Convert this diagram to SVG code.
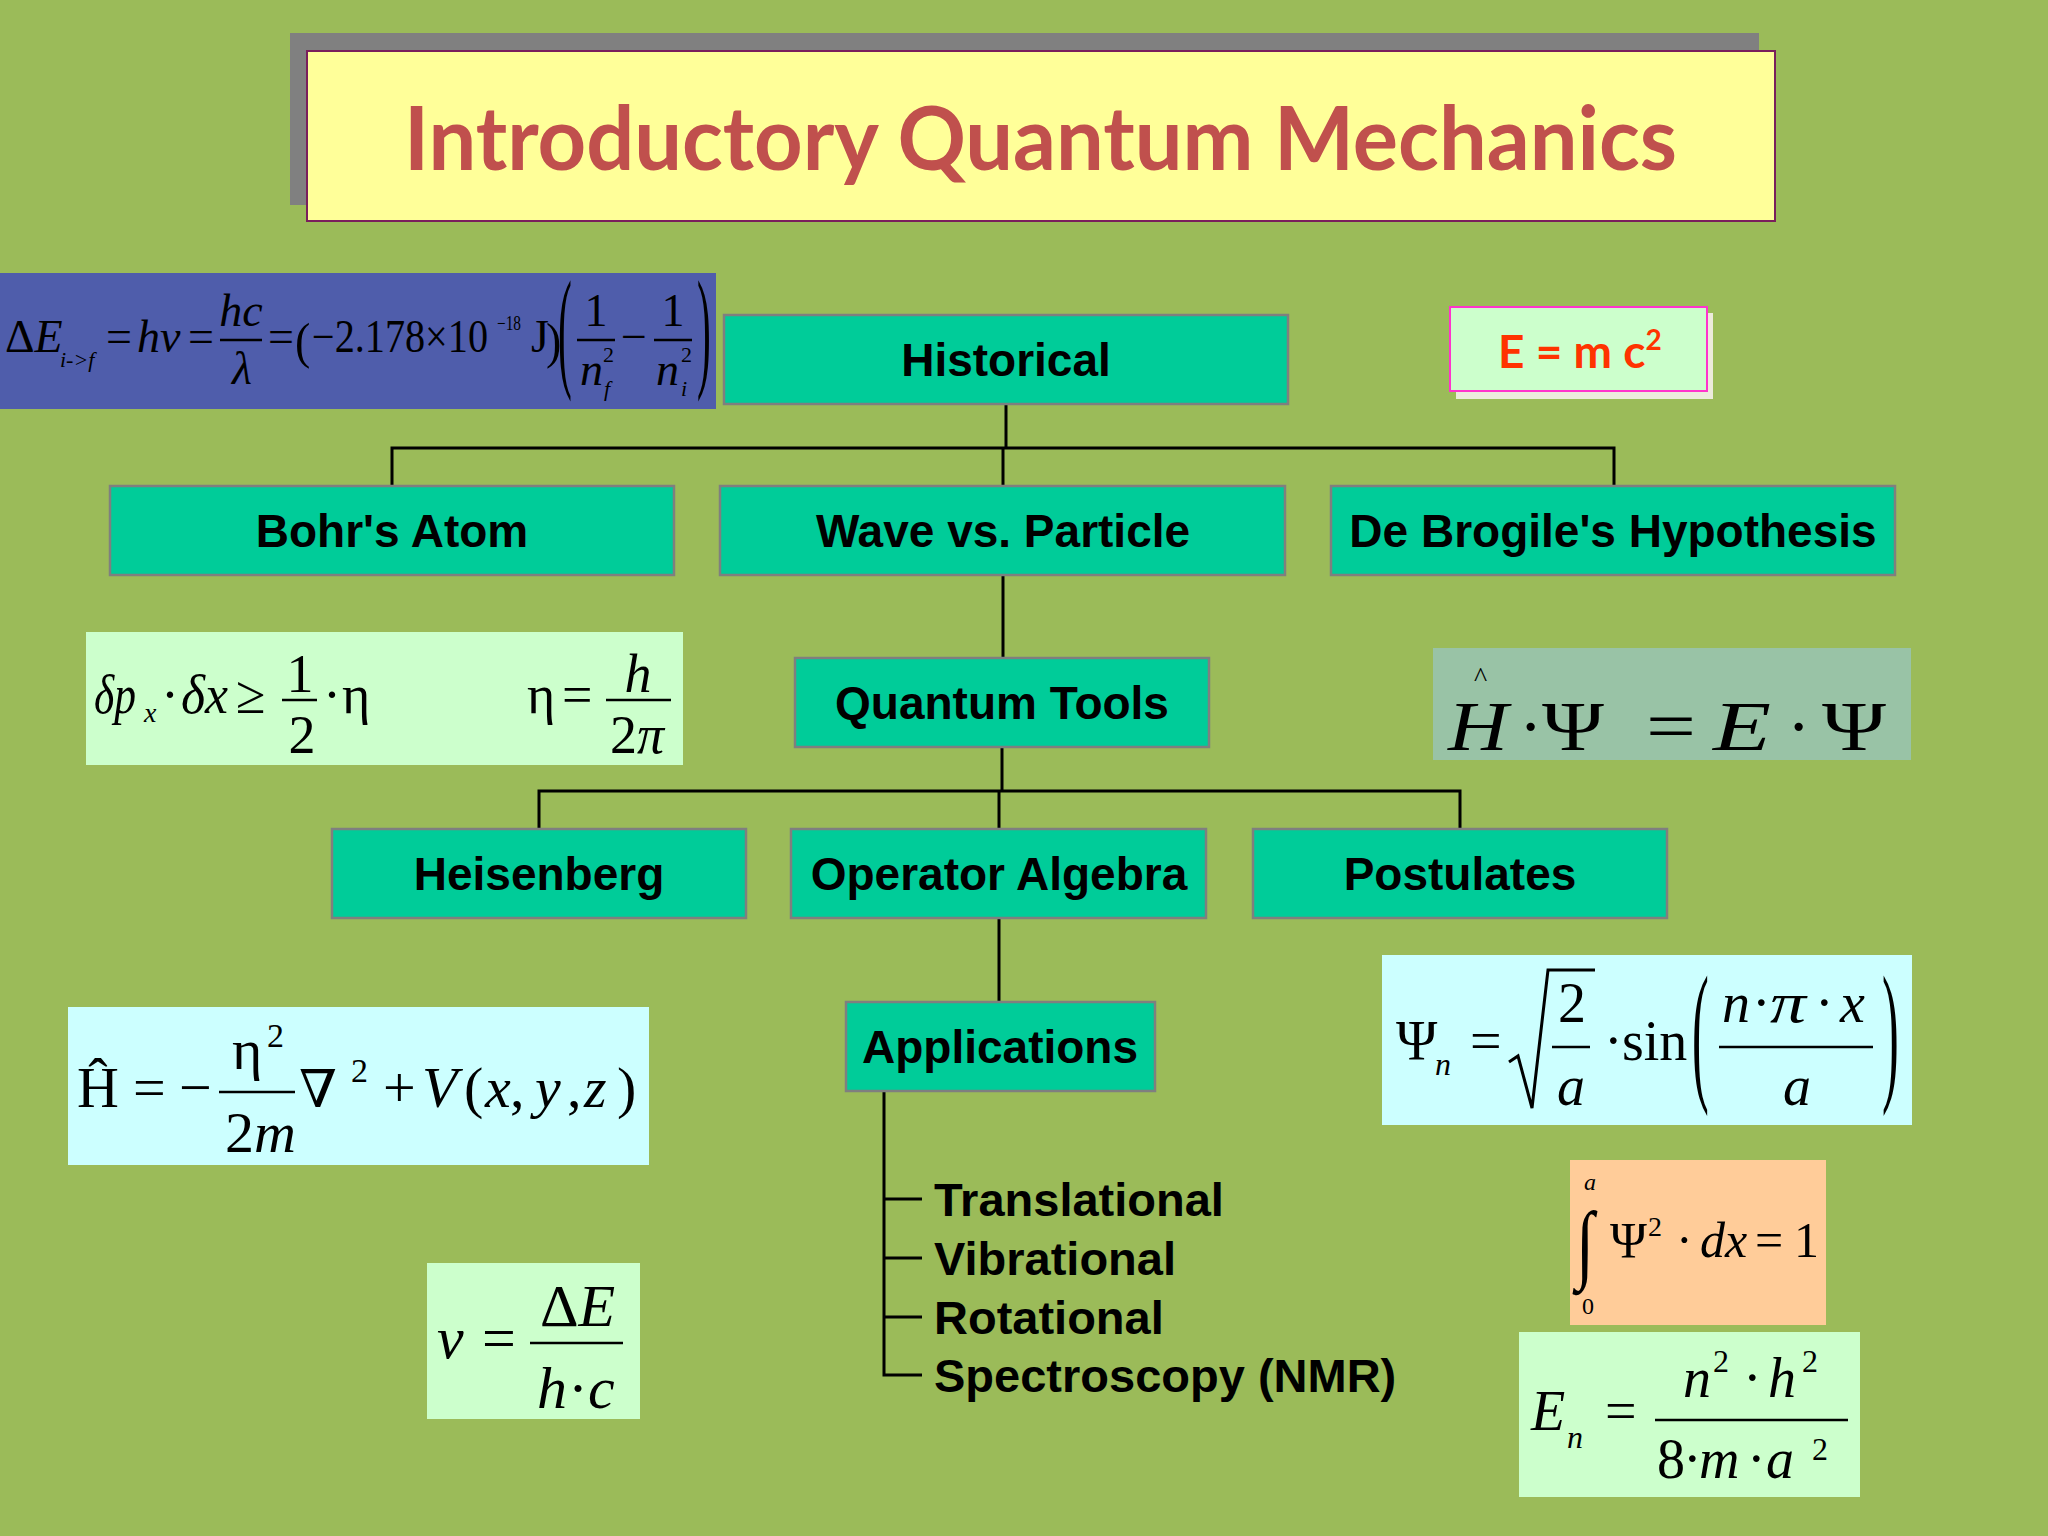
<svg xmlns="http://www.w3.org/2000/svg" width="2048" height="1536" viewBox="0 0 2048 1536">
<style>
.node rect{fill:#00cc99;stroke:#7f7f7f;stroke-width:2.5}
.node text{font-family:"Liberation Sans",Arial,sans-serif;font-weight:bold;font-size:46px;fill:#000;text-anchor:middle}
.conn path{fill:none;stroke:#000;stroke-width:3}
.m{font-family:"Liberation Serif","Times New Roman",serif;fill:#000}
.i{font-style:italic}
.c{text-anchor:middle}
.fl{stroke:#000;stroke-width:2.5}
.list{font-family:"Liberation Sans",Arial,sans-serif;font-weight:bold;font-size:47px;fill:#000}
</style>
<rect x="0" y="0" width="2048" height="1536" fill="#9bbb59"/>

<g id="title">
<rect x="290" y="33" width="1469" height="172" fill="#808080"/>
<rect x="307" y="51" width="1468" height="170" fill="#ffff99" stroke="#7a1f5c" stroke-width="2"/>
<text x="404" y="170" font-family="Lato,'Open Sans',sans-serif" font-weight="bold" font-size="88" fill="#c0504d" textLength="1273" lengthAdjust="spacingAndGlyphs">Introductory Quantum Mechanics</text>
</g>

<g id="emc2">
<rect x="1456" y="313" width="257" height="86" fill="#ecebdc"/>
<rect x="1450" y="307" width="257" height="84" fill="#ccffcc" stroke="#ff33cc" stroke-width="2"/>
<text x="1498" y="368" font-family="Lato,'Open Sans',sans-serif" font-weight="bold" font-size="46" fill="#ff3300">E = m c<tspan font-size="28" dy="-18">2</tspan></text>
</g>

<g id="conn" class="conn">
<path d="M1006 404V448"/>
<path d="M392 486V448H1614V486"/>
<path d="M1003 448V486"/>
<path d="M1003 575V658"/>
<path d="M1002 747V791"/>
<path d="M539 829V791H1460V829"/>
<path d="M999 791V829"/>
<path d="M999 918V1002"/>
<path d="M884 1091V1375H922"/>
<path d="M884 1199H922"/>
<path d="M884 1258H922"/>
<path d="M884 1317H922"/>
</g>

<g id="historical" class="node"><rect x="724" y="315" width="564" height="89"/><text x="1006" y="376">Historical</text></g>
<g id="bohr" class="node"><rect x="110" y="486" width="564" height="89"/><text x="392" y="547">Bohr's Atom</text></g>
<g id="wave" class="node"><rect x="720" y="486" width="565" height="89"/><text x="1003" y="547">Wave vs. Particle</text></g>
<g id="debroglie" class="node"><rect x="1331" y="486" width="564" height="89"/><text x="1613" y="547">De Brogile's Hypothesis</text></g>
<g id="tools" class="node"><rect x="795" y="658" width="414" height="89"/><text x="1002" y="719">Quantum Tools</text></g>
<g id="heisenberg" class="node"><rect x="332" y="829" width="414" height="89"/><text x="539" y="890">Heisenberg</text></g>
<g id="operator" class="node"><rect x="791" y="829" width="415" height="89"/><text x="999" y="890">Operator Algebra</text></g>
<g id="postulates" class="node"><rect x="1253" y="829" width="414" height="89"/><text x="1460" y="890">Postulates</text></g>
<g id="applications" class="node"><rect x="846" y="1002" width="309" height="89"/><text x="1000" y="1063">Applications</text></g>

<g id="applist" class="list">
<text x="934" y="1216">Translational</text>
<text x="934" y="1275">Vibrational</text>
<text x="934" y="1334">Rotational</text>
<text x="934" y="1392">Spectroscopy (NMR)</text>
</g>

<g id="eq-rydberg">
<rect x="0" y="273" width="716" height="136" fill="#4f5dab"/>
<g class="m" font-size="46">
<text x="5" y="352">Δ<tspan class="i">E</tspan></text>
<text x="60" y="367" font-size="22" class="i">i-&gt;f</text>
<text x="106" y="352">=</text>
<text x="137" y="352" class="i">h</text>
<text x="160" y="352" class="i">ν</text>
<text x="188" y="352">=</text>
<text x="241" y="326" class="i c">hc</text>
<line x1="220" y1="340" x2="262" y2="340" class="fl"/>
<text x="242" y="384" class="i c">λ</text>
<text x="268" y="352">=</text>
<text transform="translate(295,358) scale(1,1.1)">(</text>
<text x="312" y="352" textLength="176" lengthAdjust="spacingAndGlyphs">−2.178×10</text>
<text x="497" y="330" font-size="20" textLength="24" lengthAdjust="spacingAndGlyphs">−18</text>
<text x="531" y="352">J</text>
<text transform="translate(546,358) scale(1,1.1)">)</text>
<text transform="translate(558,373) scale(0.9,2.9)">(</text>
<text x="596" y="326" class="c">1</text>
<line x1="577" y1="340" x2="615" y2="340" class="fl"/>
<text x="580" y="385" class="i">n</text>
<text x="603" y="362" font-size="22">2</text>
<text x="604" y="396" font-size="22" class="i">f</text>
<text x="621" y="352">−</text>
<text x="673" y="326" class="c">1</text>
<line x1="654" y1="340" x2="692" y2="340" class="fl"/>
<text x="656" y="385" class="i">n</text>
<text x="681" y="362" font-size="22">2</text>
<text x="681" y="396" font-size="22" class="i">i</text>
<text transform="translate(697,373) scale(0.9,2.9)">)</text>
</g>
</g>

<g id="eq-uncertainty">
<rect x="86" y="632" width="597" height="133" fill="#ccffcc"/>
<g class="m" font-size="54">
<text x="94" y="713" class="i" textLength="42" lengthAdjust="spacingAndGlyphs">δp</text>
<text x="144" y="722" font-size="28" class="i">x</text>
<text x="161" y="713">·</text>
<text x="181" y="713" class="i" textLength="47" lengthAdjust="spacingAndGlyphs">δx</text>
<text x="236" y="713">≥</text>
<text x="300" y="692" class="c">1</text>
<line x1="282" y1="700" x2="317" y2="700" class="fl"/>
<text x="302" y="753" class="c">2</text>
<text x="323" y="713">·</text>
<text x="342" y="713">η</text>
<text x="527" y="713">η</text>
<text x="562" y="713">=</text>
<text x="638" y="692" class="i c">h</text>
<line x1="606" y1="700" x2="671" y2="700" class="fl"/>
<text x="610" y="753">2<tspan class="i">π</tspan></text>
</g>
</g>

<g id="eq-schrodinger">
<rect x="1433" y="648" width="478" height="112" fill="#99c3a6"/>
<g class="m" font-size="70">
<text x="1474" y="686" font-size="28">^</text>
<text x="1448" y="750" class="i" textLength="60" lengthAdjust="spacingAndGlyphs">H</text>
<text x="1519" y="750">·</text>
<text x="1542" y="750" textLength="62" lengthAdjust="spacingAndGlyphs">Ψ</text>
<text x="1646" y="750" textLength="50" lengthAdjust="spacingAndGlyphs">=</text>
<text x="1713" y="750" class="i" textLength="58" lengthAdjust="spacingAndGlyphs">E</text>
<text x="1787" y="750">·</text>
<text x="1822" y="750" textLength="64" lengthAdjust="spacingAndGlyphs">Ψ</text>
</g>
</g>

<g id="eq-hamiltonian">
<rect x="68" y="1007" width="581" height="158" fill="#ccffff"/>
<g class="m" font-size="58">
<text x="77" y="1107">Ĥ</text>
<text x="133" y="1107">=</text>
<text x="179" y="1107">−</text>
<text x="232" y="1069">η</text>
<text x="267" y="1047" font-size="34">2</text>
<line x1="219" y1="1092" x2="295" y2="1092" class="fl"/>
<text x="225" y="1152">2<tspan class="i">m</tspan></text>
<text x="299" y="1107" font-family="'DejaVu Serif',serif" font-weight="normal" font-size="52" textLength="38" lengthAdjust="spacingAndGlyphs">∇</text>
<text x="351" y="1082" font-size="34">2</text>
<text x="383" y="1107">+</text>
<text x="422" y="1107" class="i">V</text>
<text x="464" y="1107">(</text>
<text x="485" y="1107" class="i">x</text>
<text x="510" y="1107">,</text>
<text x="535" y="1107" class="i">y</text>
<text x="567" y="1107">,</text>
<text x="584" y="1107" class="i">z</text>
<text x="617" y="1107">)</text>
</g>
</g>

<g id="eq-psi">
<rect x="1382" y="955" width="530" height="170" fill="#ccffff"/>
<g class="m" font-size="56">
<text x="1396" y="1060">Ψ</text>
<text x="1435" y="1075" font-size="32" class="i">n</text>
<text x="1470" y="1060">=</text>
<polyline points="1509,1062 1518,1056 1532,1108 1548,970 1595,970" fill="none" stroke="#000" stroke-width="3"/>
<text x="1572" y="1022" class="c">2</text>
<line x1="1552" y1="1047" x2="1590" y2="1047" class="fl"/>
<text x="1571" y="1105" class="i c">a</text>
<text x="1604" y="1060">·</text>
<text x="1622" y="1060">sin</text>
<text transform="translate(1692,1083) scale(0.9,2.75)">(</text>
<text x="1722" y="1022" class="i">n</text>
<text x="1752" y="1022">·</text>
<text x="1770" y="1022" class="i" textLength="36" lengthAdjust="spacingAndGlyphs">π</text>
<text x="1815" y="1022">·</text>
<text x="1840" y="1022" class="i">x</text>
<line x1="1719" y1="1047" x2="1873" y2="1047" class="fl"/>
<text x="1797" y="1105" class="i c">a</text>
<text transform="translate(1882,1083) scale(0.9,2.75)">)</text>
</g>
</g>

<g id="eq-nu">
<rect x="427" y="1263" width="213" height="156" fill="#ccffcc"/>
<g class="m" font-size="60">
<text x="437" y="1358" class="i">ν</text>
<text x="482" y="1358">=</text>
<text x="540" y="1326">Δ<tspan class="i">E</tspan></text>
<line x1="530" y1="1343" x2="623" y2="1343" class="fl"/>
<text x="537" y="1408" class="i">h</text>
<text x="568" y="1408">·</text>
<text x="588" y="1408" class="i">c</text>
</g>
</g>

<g id="eq-normalization">
<rect x="1570" y="1160" width="256" height="165" fill="#ffcc99"/>
<g class="m" font-size="50">
<text transform="translate(1576,1272) scale(1.1,1.45)" font-size="60">∫</text>
<text x="1584" y="1190" font-size="24" class="i">a</text>
<text x="1582" y="1314" font-size="24">0</text>
<text x="1610" y="1257">Ψ</text>
<text x="1648" y="1236" font-size="28">2</text>
<text x="1676" y="1257">·</text>
<text x="1700" y="1257" class="i">dx</text>
<text x="1755" y="1257">=</text>
<text x="1794" y="1257">1</text>
</g>
</g>

<g id="eq-energy">
<rect x="1519" y="1332" width="341" height="165" fill="#ccffcc"/>
<g class="m" font-size="56">
<text x="1531" y="1430" class="i">E</text>
<text x="1567" y="1448" font-size="32" class="i">n</text>
<text x="1605" y="1430">=</text>
<text x="1683" y="1397" class="i">n</text>
<text x="1713" y="1372" font-size="32">2</text>
<text x="1743" y="1397">·</text>
<text x="1768" y="1397" class="i">h</text>
<text x="1802" y="1372" font-size="32">2</text>
<line x1="1655" y1="1420" x2="1848" y2="1420" class="fl"/>
<text x="1657" y="1478">8</text>
<text x="1683" y="1478">·</text>
<text x="1699" y="1478" class="i">m</text>
<text x="1747" y="1478">·</text>
<text x="1766" y="1478" class="i">a</text>
<text x="1812" y="1460" font-size="32">2</text>
</g>
</g>
</svg>
